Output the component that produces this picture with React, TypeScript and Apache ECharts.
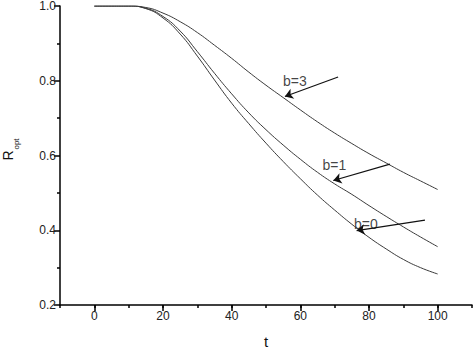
import React, { useEffect, useRef } from "react";
import * as echarts from "echarts";

const T = [0, 5, 10, 15, 20, 25, 30, 35, 40, 45, 50, 55, 60, 65, 70, 75, 80, 85, 90, 95, 100];
const B0 = [1, 1, 1, 0.993, 0.968, 0.925, 0.866, 0.802, 0.74, 0.685, 0.633, 0.584, 0.538, 0.494, 0.454, 0.416, 0.381, 0.35, 0.322, 0.3, 0.283];
const B1 = [1, 1, 1, 0.994, 0.972, 0.933, 0.878, 0.82, 0.765, 0.714, 0.669, 0.628, 0.59, 0.555, 0.524, 0.496, 0.466, 0.437, 0.409, 0.382, 0.356];
const B3 = [1, 1, 1, 0.996, 0.981, 0.958, 0.929, 0.895, 0.86, 0.823, 0.788, 0.755, 0.722, 0.69, 0.66, 0.632, 0.605, 0.58, 0.555, 0.532, 0.509];

const X_TICKS = [0, 20, 40, 60, 80, 100];

const LABELS = ["b=3", "b=1", "b=0"];
const LABEL_T = [58.4, 69.9, 79.1];
const LABEL_V = [0.798, 0.574, 0.418];

// arrows: from (start) to (tip)
const ARROW_FROM_T = [71.0, 86.1, 96.3];
const ARROW_FROM_V = [0.81, 0.577, 0.427];
const ARROW_TO_T = [55.5, 69.6, 76.4];
const ARROW_TO_V = [0.758, 0.533, 0.399];

const FONT = 'Arial, "Liberation Sans", sans-serif';

export default function App() {
  const ref = useRef<HTMLDivElement>(null);
  useEffect(() => {
    if (!ref.current) return;
    const chart = echarts.init(ref.current, undefined, { renderer: "svg" });
    const curve = (vals: number[]) => ({
      type: "line",
      data: T.map((t, i) => [t, vals[i]]),
      smooth: true,
      showSymbol: false,
      symbol: "none",
      lineStyle: { color: "#3a3a3a", width: 1 },
      xAxisIndex: 0,
      yAxisIndex: 0,
      silent: true,
    });
    const arrows = {
      type: "line",
      data: [],
      xAxisIndex: 0,
      yAxisIndex: 0,
      markLine: {
        silent: true,
        symbol: ["none", "arrow"],
        symbolSize: 8,
        lineStyle: { color: "#111", width: 1.2, type: "solid" },
        itemStyle: { color: "#111" },
        label: { show: false },
        data: ARROW_FROM_T.map((t, i) => [
          { coord: [t, ARROW_FROM_V[i]] },
          { coord: [ARROW_TO_T[i], ARROW_TO_V[i]] },
        ]),
      },
    };
    const labels = {
      type: "scatter",
      symbolSize: 0,
      silent: true,
      xAxisIndex: 0,
      yAxisIndex: 0,
      data: LABELS.map((l, i) => [LABEL_T[i], LABEL_V[i], l]),
      label: {
        show: true,
        position: "inside",
        formatter: (p: any) => p.data[2],
        fontSize: 14,
        fontFamily: FONT,
        color: "#111",
      },
    };
    chart.setOption({
      animation: false,
      backgroundColor: "#fff",
      grid: { left: 60, top: 6, right: 2, bottom: 43, containLabel: false },
      xAxis: [
        {
          type: "value",
          min: -10,
          max: 110,
          position: "bottom",
          axisLine: { show: true, onZero: false, lineStyle: { color: "#000", width: 1.5 } },
          axisTick: { show: true, customValues: X_TICKS, length: 6, lineStyle: { color: "#000", width: 1.5 } },
          axisLabel: { customValues: X_TICKS, fontSize: 12, fontFamily: FONT, color: "#222", margin: 5 },
          splitLine: { show: false },
          name: "t",
          nameLocation: "middle",
          nameGap: 29,
          nameTextStyle: { fontSize: 15, fontFamily: FONT, color: "#111" },
        },
        {
          type: "value",
          min: -10,
          max: 110,
          interval: 10,
          position: "bottom",
          axisLine: { show: false },
          axisTick: { show: true, length: 3, lineStyle: { color: "#000", width: 1.5 } },
          axisLabel: { show: false },
          splitLine: { show: false },
        },
      ],
      yAxis: {
        type: "value",
        min: 0.2,
        max: 1.0,
        interval: 0.2,
        axisLine: { show: true, onZero: false, lineStyle: { color: "#000", width: 1.5 } },
        axisTick: { show: true, length: 6, lineStyle: { color: "#000", width: 1.5 } },
        minorTick: { show: true, splitNumber: 2, length: 3, lineStyle: { color: "#000", width: 1.5 } },
        axisLabel: {
          fontSize: 12,
          fontFamily: FONT,
          color: "#222",
          margin: 4,
          formatter: (v: number) => v.toFixed(1),
        },
        splitLine: { show: false },
        minorSplitLine: { show: false },
      },
      graphic: [
        {
          type: "text",
          x: 8,
          y: 155.5,
          rotation: Math.PI / 2,
          silent: true,
          style: {
            text: "R",
            fontSize: 14,
            fontFamily: FONT,
            fill: "#111",
            align: "center",
            verticalAlign: "middle",
            textAlign: "center",
            textVerticalAlign: "middle",
          },
        },
        {
          type: "text",
          x: 16,
          y: 144,
          rotation: Math.PI / 2,
          silent: true,
          style: {
            text: "opt",
            fontSize: 8,
            fontFamily: FONT,
            fill: "#111",
            align: "center",
            verticalAlign: "middle",
            textAlign: "center",
            textVerticalAlign: "middle",
          },
        },
      ],
      series: [curve(B0), curve(B1), curve(B3), arrows, labels],
    });
    return () => chart.dispose();
  }, []);
  return (
    <div
      ref={ref}
      style={{ position: "absolute", left: 0, top: 0, width: 474, height: 354, background: "#fff" }}
    />
  );
}
